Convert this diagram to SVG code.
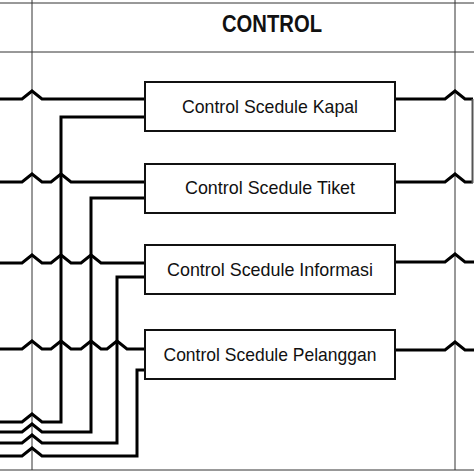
<svg xmlns="http://www.w3.org/2000/svg" width="474" height="474" viewBox="0 0 474 474">
<style>
.lane{stroke:#333;stroke-width:1;fill:none}
.box{fill:#fff;stroke:#111;stroke-width:2}
.lbl{font-family:"Liberation Sans",Arial,sans-serif;font-size:19px;fill:#111;text-anchor:middle}
.title{font-family:"Liberation Sans",Arial,sans-serif;font-size:23px;font-weight:bold;fill:#111;text-anchor:middle}
.wire{stroke:#000;stroke-width:3;fill:none;stroke-linejoin:miter}
</style>
<rect width="474" height="474" fill="#fff"/>
<g id="lanes">
<line class="lane" x1="0" y1="3" x2="474" y2="3"/>
<line class="lane" x1="0" y1="52" x2="474" y2="52"/>
<line class="lane" x1="0" y1="470" x2="474" y2="470"/>
<line class="lane" x1="32" y1="0" x2="32" y2="470"/>
<line class="lane" x1="455" y1="0" x2="455" y2="470"/>
<text class="title" x="272" y="32" textLength="100" lengthAdjust="spacingAndGlyphs">CONTROL</text>
</g>
<g id="connectors">
<path class="wire" d="M0 99 H22 L32 91 L42 99 H145"/>
<path class="wire" d="M0 182 H22 L32 174 L42 182 H51 L61 174 L71 182 H145"/>
<path class="wire" d="M0 263 H22 L32 255 L42 263 H51 L61 255 L71 263 H81 L91 255 L101 263 H145"/>
<path class="wire" d="M0 349 H22 L32 341 L42 349 H51 L61 341 L71 349 H81 L91 341 L101 349 H107 L117 341 L127 349 H145"/>
<path class="wire" d="M0 422 H22 L32 414 L42 422 H61 V117 H145"/>
<path class="wire" d="M0 432 H22 L32 424 L42 432 H91 V198 H145"/>
<path class="wire" d="M0 443 H22 L32 435 L42 443 H117 V277 H145"/>
<path class="wire" d="M0 456 H22 L32 448 L42 456 H137 V370 H145"/>
<path class="wire" d="M395 99 H445 L455 91 L465 99 H473"/>
<path class="wire" d="M395 182 H445 L455 174 L465 182 H473"/>
<path class="wire" d="M395 262 H445 L455 254 L465 262 H474"/>
<path class="wire" d="M395 350 H445 L455 342 L465 350 H474"/>
<line x1="472.5" y1="99" x2="472.5" y2="183" stroke="#555" stroke-width="2"/>
</g>
<g id="node-kapal">
<rect class="box" x="145" y="82" width="250" height="49"/>
<text class="lbl" x="270" y="113" textLength="176" lengthAdjust="spacingAndGlyphs">Control Scedule Kapal</text>
</g>
<g id="node-tiket">
<rect class="box" x="145" y="164" width="250" height="49"/>
<text class="lbl" x="270" y="194" textLength="170" lengthAdjust="spacingAndGlyphs">Control Scedule Tiket</text>
</g>
<g id="node-informasi">
<rect class="box" x="145" y="245" width="250" height="49"/>
<text class="lbl" x="270" y="276" textLength="206" lengthAdjust="spacingAndGlyphs">Control Scedule Informasi</text>
</g>
<g id="node-pelanggan">
<rect class="box" x="145" y="330" width="250" height="49"/>
<text class="lbl" x="270" y="361" textLength="213" lengthAdjust="spacingAndGlyphs">Control Scedule Pelanggan</text>
</g>
</svg>
